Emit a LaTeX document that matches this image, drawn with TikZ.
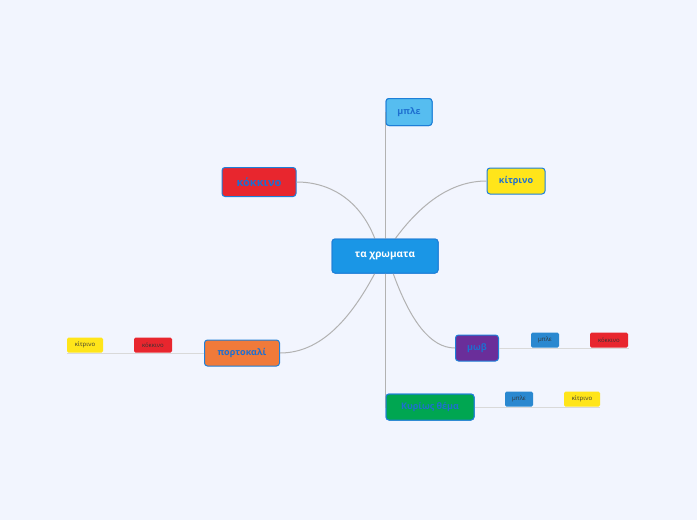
\documentclass[tikz,border=0pt]{standalone}
\usepackage{fontspec}
\setmainfont{Open Sans}
\begin{document}
\begin{tikzpicture}[x=1pt,y=-1pt,
 box/.style={draw=bord,line width=1pt,rounded corners=3pt,inner sep=0pt,font=\bfseries\fontsize{9}{10}\selectfont,text=tblue},
 sm/.style={rounded corners=1.5pt,inner sep=0pt,minimum height=15,font=\fontsize{6}{7}\selectfont,text=black!80},
 con/.style={draw=gray!60,line width=1pt},
 ul/.style={draw=gray!30,line width=1pt}]
\definecolor{bg}{HTML}{F2F5FE}
\definecolor{bord}{HTML}{1E7FD8}
\definecolor{tblue}{HTML}{1E6FD0}
\definecolor{cblue}{HTML}{1A96E6}
\definecolor{lblue}{HTML}{56BDF0}
\definecolor{cyel}{HTML}{FFE51A}
\definecolor{cred}{HTML}{E8262E}
\definecolor{corg}{HTML}{F07A3A}
\definecolor{cpur}{HTML}{6A2E9A}
\definecolor{cgrn}{HTML}{00A651}
\definecolor{sblue}{HTML}{2A88D0}
\fill[bg] (0,0) rectangle (697,520);
\useasboundingbox (0,0) rectangle (697,520);
% underlines
\coordinate (u1) at (629,348);
\coordinate (u2) at (600,407);
\coordinate (u3) at (67,353);
\node[box,fill=cblue,text=white,minimum width=106,minimum height=34,font=\bfseries\fontsize{10}{12}\selectfont] (c) at (385,256) {τα χρωματα};
\node[box,fill=lblue,minimum width=46,minimum height=27] (b) at (409,112) {μπλε};
\node[box,fill=cyel,minimum width=58,minimum height=26] (y) at (516,181) {κίτρινο};
\node[box,fill=cred,minimum width=74,minimum height=29,font=\bfseries\fontsize{11}{12}\selectfont] (r) at (259,182) {κόκκινο};
\node[box,fill=corg,minimum width=75,minimum height=26] (o) at (242,353) {πορτοκαλί};
\node[box,fill=cpur,minimum width=43,minimum height=26] (p) at (477,348) {μωβ};
\node[box,fill=cgrn,minimum width=88,minimum height=26] (g) at (430,407) {Κυρίως θέμα};
\begin{scope}[on background layer/.try]
\draw[con] (385,240) -- (385,112) -- (b.west);
\draw[con] (375,239) .. controls (360,200) and (330,182) .. (r.east);
\draw[con] (395,239) .. controls (420,205) and (450,181) .. (y.west);
\draw[con] (375,273) .. controls (350,320) and (320,353) .. (o.east);
\draw[con] (393,273) .. controls (410,320) and (430,348) .. (p.west);
\draw[con] (385,273) -- (385,407) -- (g.west);
\draw[ul] (p.east) -- (u1);
\draw[ul] (g.east) -- (u2);
\draw[ul] (o.west) -- (u3);
\end{scope}
\draw[con] (c.north) ++(0,0);
\node[sm,fill=sblue,minimum width=28] (p1) at (545,340) {μπλε};
\node[sm,fill=cred,minimum width=38] (p2) at (609,340) {κόκκινο};
\node[sm,fill=sblue,minimum width=28] (g1) at (519,399) {μπλε};
\node[sm,fill=cyel,minimum width=36] (g2) at (582,399) {κίτρινο};
\node[sm,fill=cred,minimum width=38] (o1) at (153,345) {κόκκινο};
\node[sm,fill=cyel,minimum width=36] (o2) at (85,345) {κίτρινο};
% redraw main nodes above connectors
\node[box,fill=cblue,text=white,minimum width=106,minimum height=34,font=\bfseries\fontsize{10}{12}\selectfont] at (385,256) {τα χρωματα};
\node[box,fill=lblue,minimum width=46,minimum height=27] at (409,112) {μπλε};
\node[box,fill=cgrn,minimum width=88,minimum height=26] at (430,407) {Κυρίως θέμα};
\end{tikzpicture}
\end{document}
